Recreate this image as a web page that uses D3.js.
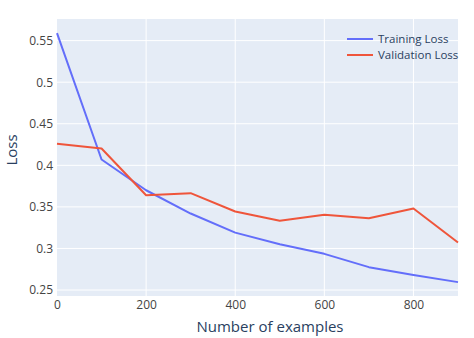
<!DOCTYPE html>
<html><head><meta charset="utf-8">
<script src="https://cdn.jsdelivr.net/npm/d3@7"></script>
<style>body{margin:0;background:#fff;} text{font-family:"Open Sans",verdana,arial,sans-serif;}</style>
</head><body><svg id="c" width="474" height="338"></svg>
<script>
const examples = [0,100,200,300,400,500,600,700,800,900];
const trainingLoss = [0.559,0.407,0.370,0.342,0.319,0.305,0.2935,0.2775,0.268,0.2595];
const validationLoss = [0.4258,0.4202,0.364,0.3665,0.3444,0.3332,0.3404,0.3364,0.348,0.3071];
const xTicks = [0,200,400,600,800];
const yTicks = [0.25,0.3,0.35,0.4,0.45,0.5,0.55];
const seriesNames = ["Training Loss","Validation Loss"];
const colors = ["#636efa","#EF553B"];

const svg = d3.select("#c");
const L=57,R=458,T=19,B=296;
const x = d3.scaleLinear().domain([0,900]).range([L,R]);
const y = d3.scaleLinear().domain([0.2428,0.576]).range([B,T]);

svg.append("rect").attr("x",L).attr("y",T).attr("width",R-L).attr("height",B-T).attr("fill","#E5ECF6");
const g = svg.append("g");
g.selectAll(".vg").data(xTicks.filter(d=>d>0)).join("line").attr("x1",d=>x(d)).attr("x2",d=>x(d)).attr("y1",T).attr("y2",B).attr("stroke","#fff").attr("stroke-width",1);
g.selectAll(".hg").data(yTicks).join("line").attr("y1",d=>y(d)).attr("y2",d=>y(d)).attr("x1",L).attr("x2",R).attr("stroke","#fff").attr("stroke-width",1);

const xAxis = svg.append("g").attr("transform",`translate(0,${B})`).call(d3.axisBottom(x).tickValues(xTicks).tickSize(0).tickPadding(4).tickFormat(d3.format("d")));
xAxis.select(".domain").remove();
xAxis.selectAll("text").attr("fill","#444").style("font-size","12px");
const yAxis = svg.append("g").attr("transform",`translate(${L},0)`).call(d3.axisLeft(y).tickValues(yTicks).tickSize(0).tickPadding(4).tickFormat(d=>String(+d.toFixed(2))));
yAxis.select(".domain").remove();
yAxis.selectAll("text").attr("fill","#444").style("font-size","12px");

const line = d3.line().x((d,i)=>x(examples[i])).y(d=>y(d));
[trainingLoss,validationLoss].forEach((s,k)=>{
  svg.append("path").datum(s).attr("d",line).attr("fill","none").attr("stroke",colors[k]).attr("stroke-width",2).attr("stroke-linejoin","round");
});

svg.append("text").attr("x",270).attr("y",332).attr("text-anchor","middle").attr("fill","#2a3f5f").style("font-size","15px").text("Number of examples");
svg.append("text").attr("transform",`translate(17,150) rotate(-90)`).attr("text-anchor","middle").attr("fill","#2a3f5f").style("font-size","15px").text("Loss");

const leg = svg.append("g");
seriesNames.forEach((n,i)=>{
  const yy = 39 + i*16;
  leg.append("line").attr("x1",347).attr("x2",373).attr("y1",yy).attr("y2",yy).attr("stroke",colors[i]).attr("stroke-width",2);
  leg.append("text").attr("x",378).attr("y",yy+4).attr("fill","#2a3f5f").style("font-size","11.5px").text(n);
});
</script></body></html>
